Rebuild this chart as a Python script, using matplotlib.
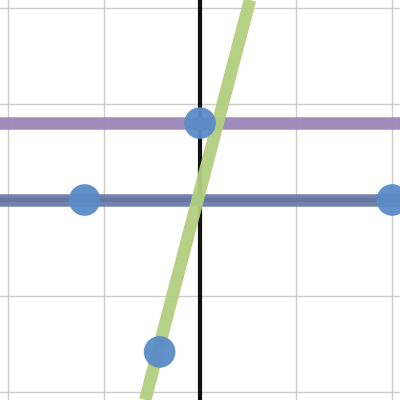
import matplotlib.pyplot as plt
import numpy as np

# data (grid unit = 1)
points_x = [-1.2, 0.0, 2.0, -0.42]
points_y = [0.0, 0.8, 0.0, -1.58]
purple_y = 0.8
blue_y = 0.0
green_x = [-0.57, 0.52]
green_y = [-2.08, 2.08]

fig = plt.figure(figsize=(4, 4), dpi=100)
ax = fig.add_axes([0, 0, 1, 1])
lim = 2.08
ax.set_xlim(-lim, lim)
ax.set_ylim(-lim, lim)
for v in [-2, -1, 1, 2]:
    ax.axvline(v, color="#cccccc", lw=1, zorder=0)
    ax.axhline(v, color="#cccccc", lw=1, zorder=0)
for v in np.arange(-2, 2.01, 0.2):
    pass
ax.axvline(0, color="#111111", lw=3, zorder=1)
ax.axhline(0, color="#111111", lw=3, zorder=1)

ax.axhline(purple_y, color="#9b86b8", lw=9, alpha=0.95, zorder=2)
ax.axhline(blue_y, color="#6a7aaa", lw=9, alpha=0.95, zorder=2)
ax.plot(green_x, green_y, color="#b2cf80", lw=9, alpha=0.95, zorder=3,
        solid_capstyle="butt")
ax.scatter(points_x, points_y, s=520, color="#5b8bc7", alpha=0.95, zorder=4,
           edgecolors="none")
ax.set_xticks([])
ax.set_yticks([])
for s in ax.spines.values():
    s.set_visible(False)
fig.savefig("out.png", dpi=100)
